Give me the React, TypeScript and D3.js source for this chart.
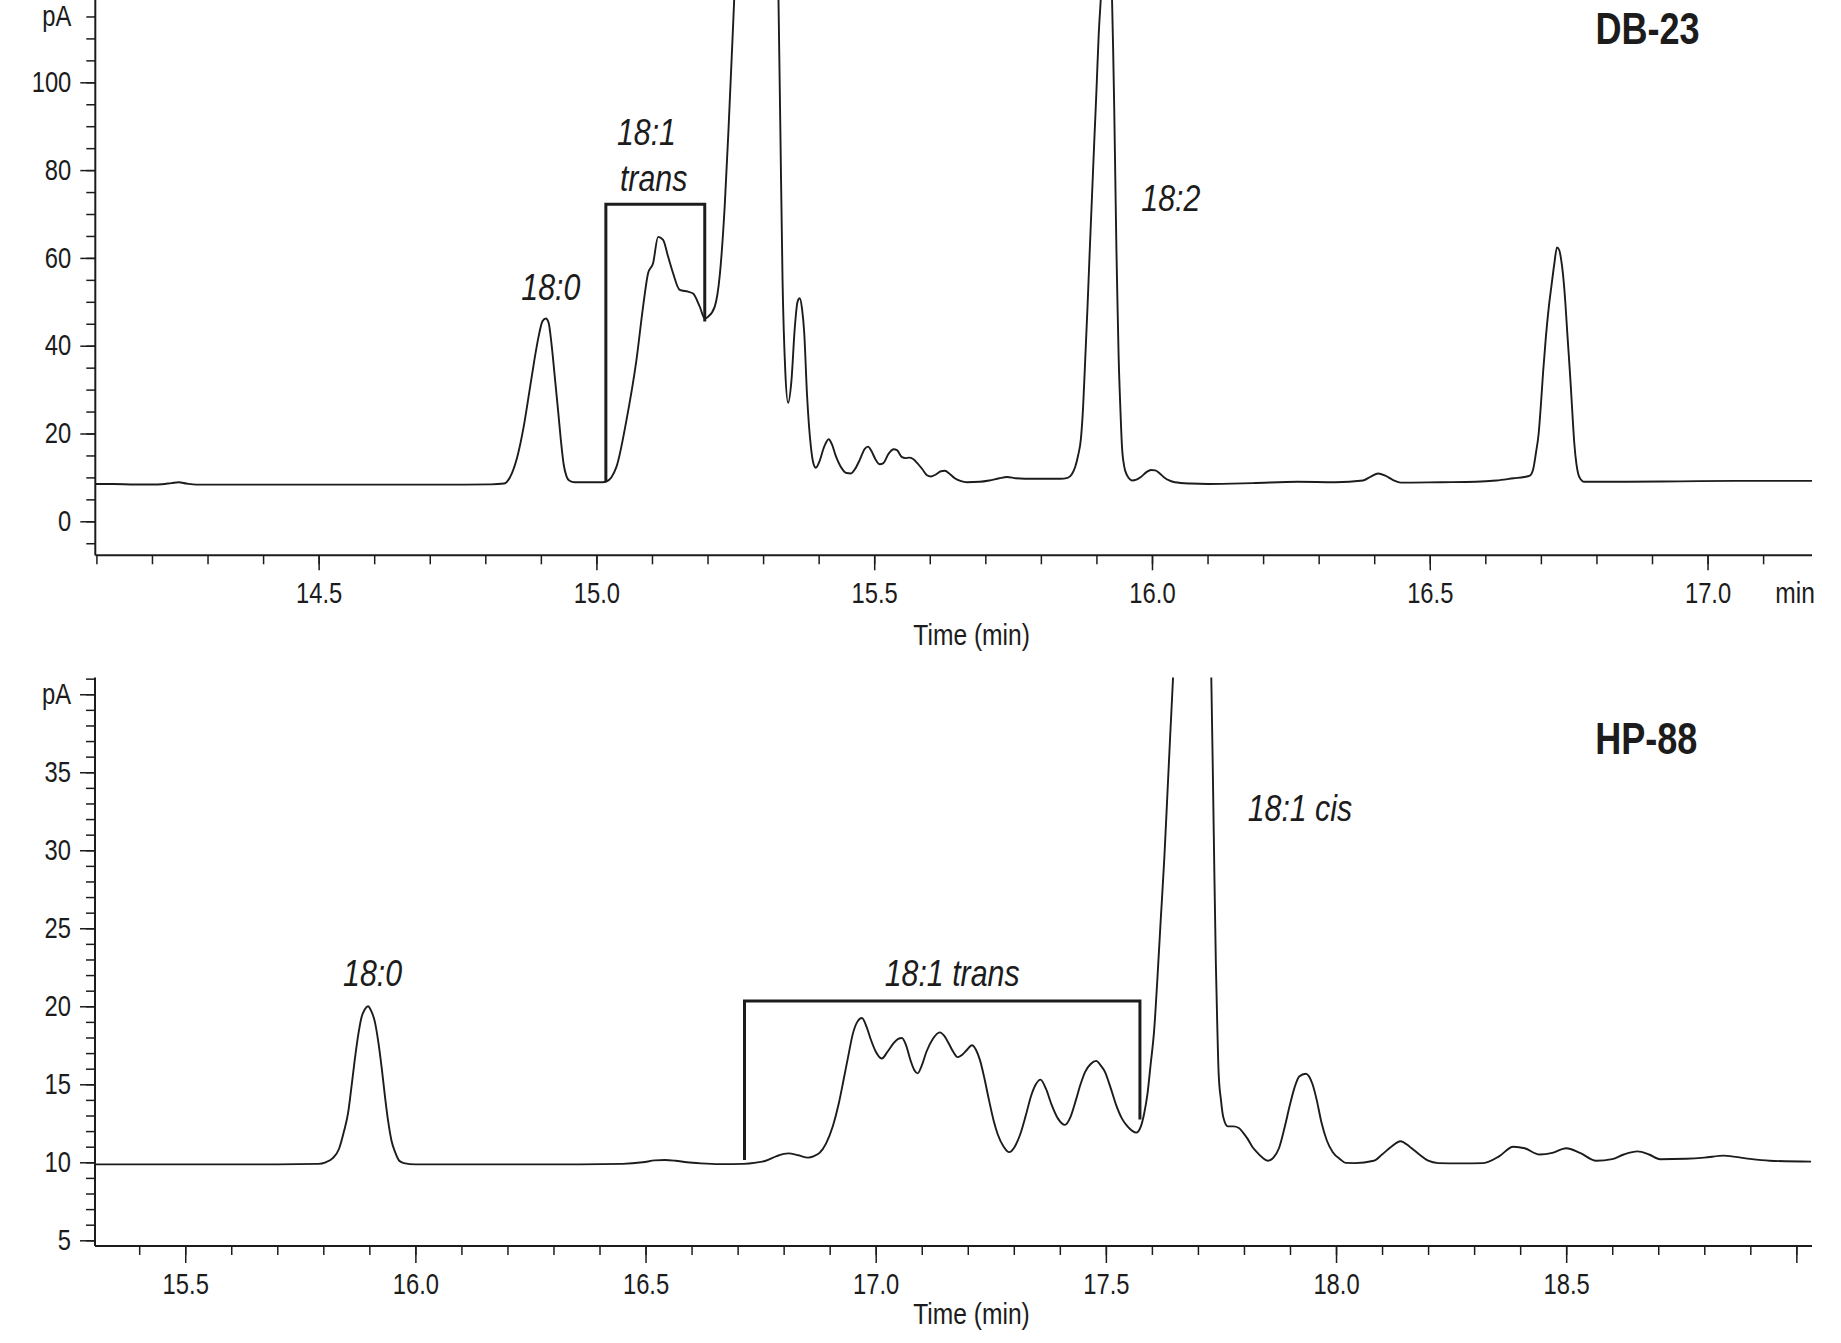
import React, { useEffect, useRef } from "react";
import * as d3 from "d3";

const W = 1841;
const H = 1343;
// Arial-metric face squeezed horizontally to mimic the condensed face of the original
const FONT = "'Liberation Sans', Arial, sans-serif";
const NARROW = 0.82;
const INK = "#1c1c1c";

// DB-23 chromatogram, [time (min), signal (pA)]
const db23Trace: [number, number][] = [
  [14.099, 8.5], [14.13, 8.5], [14.17, 8.4], [14.21, 8.4], [14.235, 8.7], [14.248, 8.9], [14.262, 8.6],
  [14.28, 8.35], [14.4, 8.35], [14.6, 8.35], [14.762, 8.35], [14.81, 8.4], [14.834, 8.6], [14.848, 11],
  [14.859, 15.4], [14.869, 21.5], [14.879, 29.3], [14.888, 36.5], [14.895, 41.5], [14.903, 45.6],
  [14.909, 46.2], [14.914, 45.2], [14.919, 40.6], [14.925, 33], [14.931, 25.2], [14.936, 18.5],
  [14.941, 13.0], [14.946, 10.3], [14.951, 9.3], [14.961, 8.9], [14.99, 8.9], [15.011, 8.9], [15.017, 9.0],
  [15.036, 12.4], [15.054, 23], [15.072, 36.7], [15.084, 48.9], [15.093, 56.5], [15.102, 58.8],
  [15.111, 64.8], [15.120, 64.1], [15.129, 60.3], [15.138, 56.5], [15.150, 52.7], [15.165, 52.3],
  [15.174, 51.9], [15.186, 48.9], [15.195, 46.2], [15.201, 46.6], [15.213, 48.9], [15.222, 56],
  [15.231, 72], [15.238, 90], [15.245, 110], [15.25, 125], [15.289, 330], [15.327, 125], [15.331, 90],
  [15.335, 55], [15.340, 34], [15.345, 27], [15.351, 32], [15.357, 44], [15.362, 50], [15.366, 50.8],
  [15.370, 48.5], [15.374, 43], [15.379, 29], [15.386, 17], [15.391, 13], [15.395, 12.2], [15.401, 13.5],
  [15.41, 17], [15.418, 18.7], [15.424, 17.5], [15.430, 15.2], [15.442, 12], [15.45, 11], [15.458, 10.9],
  [15.466, 12], [15.474, 14], [15.483, 16.5], [15.489, 17], [15.495, 16], [15.502, 14.2], [15.51, 13],
  [15.516, 13.2], [15.526, 15.4], [15.535, 16.4], [15.541, 16.2], [15.550, 14.6], [15.556, 14.4],
  [15.563, 14.5], [15.57, 14.2], [15.578, 13.2], [15.587, 11.8], [15.595, 10.5], [15.602, 10.2],
  [15.61, 10.6], [15.62, 11.4], [15.627, 11.5], [15.636, 10.8], [15.645, 9.8], [15.655, 9.2],
  [15.667, 8.9], [15.69, 9.0], [15.707, 9.3], [15.725, 9.8], [15.739, 10.1], [15.755, 9.8], [15.771, 9.7],
  [15.8, 9.7], [15.835, 9.7], [15.848, 9.9], [15.856, 10.8], [15.862, 12.5], [15.867, 15], [15.872, 18.7],
  [15.876, 26], [15.880, 37.4], [15.884, 49], [15.888, 61.8], [15.892, 74], [15.896, 86.2], [15.900, 98],
  [15.904, 110.6], [15.909, 122], [15.919, 165], [15.927, 125], [15.930, 108], [15.932, 94.3],
  [15.934, 78], [15.936, 61.8], [15.938, 49], [15.940, 37.4], [15.943, 26], [15.946, 17], [15.950, 12.5],
  [15.955, 10.5], [15.960, 9.6], [15.964, 9.3], [15.972, 9.5], [15.98, 10.1], [15.99, 11.2],
  [15.998, 11.7], [16.006, 11.6], [16.014, 10.9], [16.022, 10.0], [16.031, 9.3], [16.041, 8.9],
  [16.07, 8.6], [16.101, 8.5], [16.181, 8.7], [16.262, 9.0], [16.33, 8.9], [16.38, 9.3], [16.394, 10.2],
  [16.407, 10.9], [16.42, 10.4], [16.434, 9.4], [16.448, 8.8], [16.52, 8.9], [16.583, 9.0], [16.62, 9.3],
  [16.651, 9.8], [16.67, 10.1], [16.68, 10.4], [16.686, 11.8], [16.691, 15.5], [16.696, 20],
  [16.700, 26.5], [16.704, 34], [16.709, 42], [16.714, 48.5], [16.719, 53.6], [16.724, 58.5],
  [16.729, 62.4], [16.733, 61.8], [16.736, 60], [16.740, 56], [16.743, 51.6], [16.748, 42],
  [16.753, 32.5], [16.757, 24], [16.760, 18], [16.764, 13], [16.767, 10.9], [16.772, 9.5], [16.777, 9.0],
  [16.855, 9.0], [16.95, 9.1], [17.05, 9.2], [17.188, 9.2],
];

// HP-88 chromatogram, [time (min), signal (pA)]
const hp88Trace: [number, number][] = [
  [15.304, 9.87], [15.4, 9.87], [15.5, 9.87], [15.6, 9.87], [15.7, 9.87], [15.79, 9.9], [15.805, 10.0],
  [15.82, 10.25], [15.834, 10.85], [15.845, 12], [15.854, 13.2], [15.861, 14.8], [15.868, 16.5],
  [15.876, 18.2], [15.883, 19.3], [15.890, 19.8], [15.897, 20.0], [15.904, 19.7], [15.912, 19.0],
  [15.920, 17.6], [15.927, 16.0], [15.934, 14.2], [15.941, 12.6], [15.948, 11.4], [15.956, 10.65],
  [15.965, 10.1], [15.975, 9.95], [16.0, 9.87], [16.2, 9.87], [16.358, 9.87], [16.45, 9.9], [16.494, 10.0],
  [16.52, 10.12], [16.542, 10.15], [16.565, 10.1], [16.59, 10.0], [16.62, 9.93], [16.66, 9.88],
  [16.713, 9.9], [16.74, 9.98], [16.761, 10.1], [16.785, 10.4], [16.810, 10.57], [16.832, 10.45],
  [16.853, 10.3], [16.866, 10.4], [16.878, 10.6], [16.892, 11.2], [16.907, 12.33], [16.92, 13.8],
  [16.931, 15.4], [16.941, 16.9], [16.950, 18.2], [16.960, 19.0], [16.970, 19.25], [16.980, 18.7],
  [16.989, 17.9], [17.0, 17.1], [17.013, 16.65], [17.026, 17.1], [17.038, 17.6], [17.048, 17.9],
  [17.057, 17.97], [17.066, 17.5], [17.076, 16.5], [17.084, 15.9], [17.091, 15.7], [17.10, 16.2],
  [17.110, 17.07], [17.124, 17.9], [17.139, 18.33], [17.149, 18.1], [17.159, 17.6], [17.168, 17.1],
  [17.178, 16.74], [17.188, 16.9], [17.198, 17.2], [17.209, 17.5], [17.218, 17.2], [17.227, 16.5],
  [17.236, 15.4], [17.246, 14.0], [17.256, 12.7], [17.265, 11.8], [17.278, 11.0], [17.290, 10.65],
  [17.302, 11.0], [17.314, 11.8], [17.326, 13.0], [17.338, 14.3], [17.348, 15.0], [17.358, 15.3],
  [17.370, 14.7], [17.382, 13.7], [17.396, 12.8], [17.411, 12.4], [17.423, 12.9], [17.435, 14.0],
  [17.445, 15.0], [17.455, 15.8], [17.467, 16.3], [17.479, 16.5], [17.489, 16.2], [17.498, 15.8],
  [17.510, 14.8], [17.522, 13.7], [17.535, 12.8], [17.547, 12.3], [17.558, 12.0], [17.566, 11.9],
  [17.576, 12.3], [17.583, 13.1], [17.590, 14.3], [17.597, 16.2], [17.605, 18.5], [17.612, 21.8],
  [17.619, 25.45], [17.627, 29.5], [17.634, 33.8], [17.640, 37.5], [17.646, 41.1], [17.652, 45],
  [17.688, 95], [17.725, 45], [17.729, 41.1], [17.733, 33.8], [17.736, 28], [17.739, 22.66],
  [17.742, 18.8], [17.745, 15.7], [17.750, 14.0], [17.755, 12.9], [17.765, 12.3], [17.777, 12.3],
  [17.789, 12.2], [17.798, 11.9], [17.808, 11.5], [17.818, 11.0], [17.828, 10.65], [17.840, 10.3],
  [17.852, 10.1], [17.864, 10.3], [17.876, 10.9], [17.888, 12.2], [17.900, 13.7], [17.910, 14.8],
  [17.920, 15.5], [17.934, 15.68], [17.949, 15.0], [17.958, 14.0], [17.968, 12.6], [17.980, 11.4],
  [17.993, 10.65], [18.009, 10.2], [18.021, 9.96], [18.041, 9.95], [18.082, 10.1], [18.10, 10.5],
  [18.12, 11.0], [18.140, 11.35], [18.16, 11.0], [18.181, 10.5], [18.20, 10.1], [18.222, 9.95],
  [18.27, 9.93], [18.32, 9.95], [18.355, 10.4], [18.385, 11.0], [18.41, 10.9], [18.442, 10.5],
  [18.47, 10.6], [18.5, 10.9], [18.53, 10.6], [18.565, 10.1], [18.60, 10.2], [18.625, 10.5],
  [18.655, 10.7], [18.68, 10.5], [18.704, 10.2], [18.76, 10.23], [18.80, 10.3], [18.843, 10.43],
  [18.89, 10.25], [18.942, 10.1], [19.032, 10.04],
];

// axis ticks (major) and which of them carry a label
const db23YTicks = [0, 20, 40, 60, 80, 100];
const db23XTicks = [14.5, 15.0, 15.5, 16.0, 16.5, 17.0];
const db23XLabels = [14.5, 15.0, 15.5, 16.0, 16.5, 17.0];
const hp88YTicks = [5, 10, 15, 20, 25, 30, 35, 40];
const hp88XTicks = [15.5, 16.0, 16.5, 17.0, 17.5, 18.0, 18.5, 19.0];
const hp88XLabels = [15.5, 16.0, 16.5, 17.0, 17.5, 18.0, 18.5];

// peak annotations: [text, time, pA, anchor]
const db23Labels: [string, number, number, string][] = [
  ["18:0", 14.918, 50.4, "middle"],
  ["18:1", 15.09, 85.8, "middle"],
  ["trans", 15.103, 75.3, "middle"],
  ["18:2", 16.034, 70.7, "middle"],
];
const hp88Labels: [string, number, number, string][] = [
  ["18:0", 15.907, 21.3, "middle"],
  ["18:1 trans", 17.166, 21.3, "middle"],
  ["18:1 cis", 17.808, 31.9, "start"],
];

// brackets: [start time, end time, top pA, left foot pA, right foot pA]
const db23Bracket = [15.017, 15.195, 72.2, 9.0, 45.5];
const hp88Bracket = [16.715, 17.574, 20.34, 10.15, 12.74];

const panels = [
  {
    id: "db23",
    name: "DB-23",
    nameAt: [16.892, 108.7],
    trace: db23Trace,
    labels: db23Labels,
    bracket: db23Bracket,
    x: d3.scaleLinear().domain([14.098, 17.188]).range([95.3, 1812]),
    y: d3.scaleLinear().domain([-7.745, 118.75]).range([555.3, 0]),
    yTicks: db23YTicks,
    yMinor: d3.range(-5, 116, 5),
    unitAt: 115,
    xTicks: db23XTicks,
    xLabels: db23XLabels,
    xMinor: d3.range(14.1, 17.19, 0.1),
    xMajorLen: 15,
    xMinorLen: 9,
    xPad: 12,
    titleY: 645,
    showMin: true,
  },
  {
    id: "hp88",
    name: "HP-88",
    nameAt: [18.674, 36.2],
    trace: hp88Trace,
    labels: hp88Labels,
    bracket: hp88Bracket,
    x: d3.scaleLinear().domain([15.304, 19.034]).range([95, 1812]),
    y: d3.scaleLinear().domain([4.635, 41.08]).range([1246, 677.4]),
    yTicks: hp88YTicks,
    yMinor: d3.range(5, 41.5, 1),
    unitAt: 40,
    xTicks: hp88XTicks,
    xLabels: hp88XLabels,
    xMinor: d3.range(15.4, 19.01, 0.1),
    xMajorLen: 17,
    xMinorLen: 9,
    xPad: 10,
    titleY: 1324,
    showMin: false,
  },
];

const styleAxis = (g: any) => {
  g.attr("font-family", FONT).attr("font-size", 29);
  g.selectAll("line").attr("stroke", INK).attr("stroke-width", 1.5);
  g.selectAll("path").attr("stroke", INK).attr("stroke-width", 2);
  g.selectAll("text")
    .attr("fill", INK)
    .attr("x", function (this: any) {
      const v = d3.select(this).attr("x");
      return v == null ? null : +v / NARROW;
    })
    .attr("transform", `scale(${NARROW},1)`);
};

// plain text squeezed to the condensed width
const addText = (g: any, x: number, y: number, text: string, size: number, anchor = "middle") =>
  g
    .append("text")
    .attr("x", x / NARROW)
    .attr("y", y)
    .attr("transform", `scale(${NARROW},1)`)
    .attr("text-anchor", anchor)
    .attr("font-family", FONT)
    .attr("font-size", size)
    .attr("fill", INK)
    .text(text);

const App = () => {
  const svgRef = useRef<SVGSVGElement>(null);

  useEffect(() => {
    const svg = d3.select(svgRef.current);
    svg.selectAll("*").remove();

    panels.forEach((p) => {
      const { x, y } = p;
      const [x0, x1] = x.range();
      const [yBottom, yTop] = y.range();
      const root = svg.append("g").attr("class", p.id);
      const fmt = d3.format(".1f");

      root
        .append("clipPath")
        .attr("id", `clip-${p.id}`)
        .append("rect")
        .attr("x", x0)
        .attr("y", yTop)
        .attr("width", x1 - x0)
        .attr("height", yBottom - yTop);

      // minor ticks first, then majors with labels
      root
        .append("g")
        .attr("transform", `translate(${x0},0)`)
        .call(d3.axisLeft(y).tickValues(p.yMinor).tickSize(9).tickSizeOuter(0).tickFormat(() => ""))
        .call((g) => g.select(".domain").remove())
        .call(styleAxis);

      root
        .append("g")
        .attr("transform", `translate(${x0},0)`)
        .call(d3.axisLeft(y).tickValues(p.yTicks).tickSize(15).tickSizeOuter(0).tickPadding(9).tickFormat(d3.format("d")))
        .call((g) => g.select(".domain").attr("d", `M0,${yBottom}V${yTop}`))
        .call((g) => g.selectAll(".tick").filter((d: any) => d === p.unitAt).select("text").remove())
        .call(styleAxis);

      addText(root, x0 - 24, y(p.unitAt), "pA", 29, "end").attr("dy", "0.32em");

      root
        .append("g")
        .attr("transform", `translate(0,${yBottom})`)
        .call(d3.axisBottom(x).tickValues(p.xMinor).tickSize(p.xMinorLen).tickSizeOuter(0).tickFormat(() => ""))
        .call((g) => g.select(".domain").remove())
        .call(styleAxis);

      root
        .append("g")
        .attr("transform", `translate(0,${yBottom})`)
        .call(
          d3
            .axisBottom(x)
            .tickValues(p.xTicks)
            .tickSize(p.xMajorLen)
            .tickSizeOuter(0)
            .tickPadding(p.xPad)
            .tickFormat((d: any) => (p.xLabels.includes(d) ? fmt(d) : ""))
        )
        .call((g) => g.select(".domain").attr("d", `M${x0},0H${x1}`))
        .call(styleAxis);

      addText(root, (x0 + x1) / 2 + 18, p.titleY, "Time (min)", 30);
      if (p.showMin) addText(root, x1 + 3, yBottom + 48, "min", 30, "end");

      const line = d3
        .line<[number, number]>()
        .x((d) => x(d[0]))
        .y((d) => y(d[1]))
        .curve(d3.curveMonotoneX);

      root
        .append("path")
        .datum(p.trace)
        .attr("clip-path", `url(#clip-${p.id})`)
        .attr("fill", "none")
        .attr("stroke", INK)
        .attr("stroke-width", 1.9)
        .attr("stroke-linejoin", "round")
        .attr("d", line);

      const [bx0, bx1, bTop, bLeft, bRight] = p.bracket;
      root
        .append("path")
        .attr("fill", "none")
        .attr("stroke", INK)
        .attr("stroke-width", 3)
        .attr("d", `M${x(bx0)},${y(bLeft)}V${y(bTop)}H${x(bx1)}V${y(bRight)}`);

      p.labels.forEach(([text, t, v, anchor]) => {
        addText(root, x(t), y(v), text, 37, anchor).attr("font-style", "italic");
      });

      addText(root, x(p.nameAt[0]), y(p.nameAt[1]), p.name, 44).attr("font-weight", "bold");
    });
  }, []);

  return (
    <svg
      ref={svgRef}
      width={W}
      height={H}
      style={{ position: "absolute", left: 0, top: 0, display: "block", background: "#fff" }}
    ></svg>
  );
};

export default App;
